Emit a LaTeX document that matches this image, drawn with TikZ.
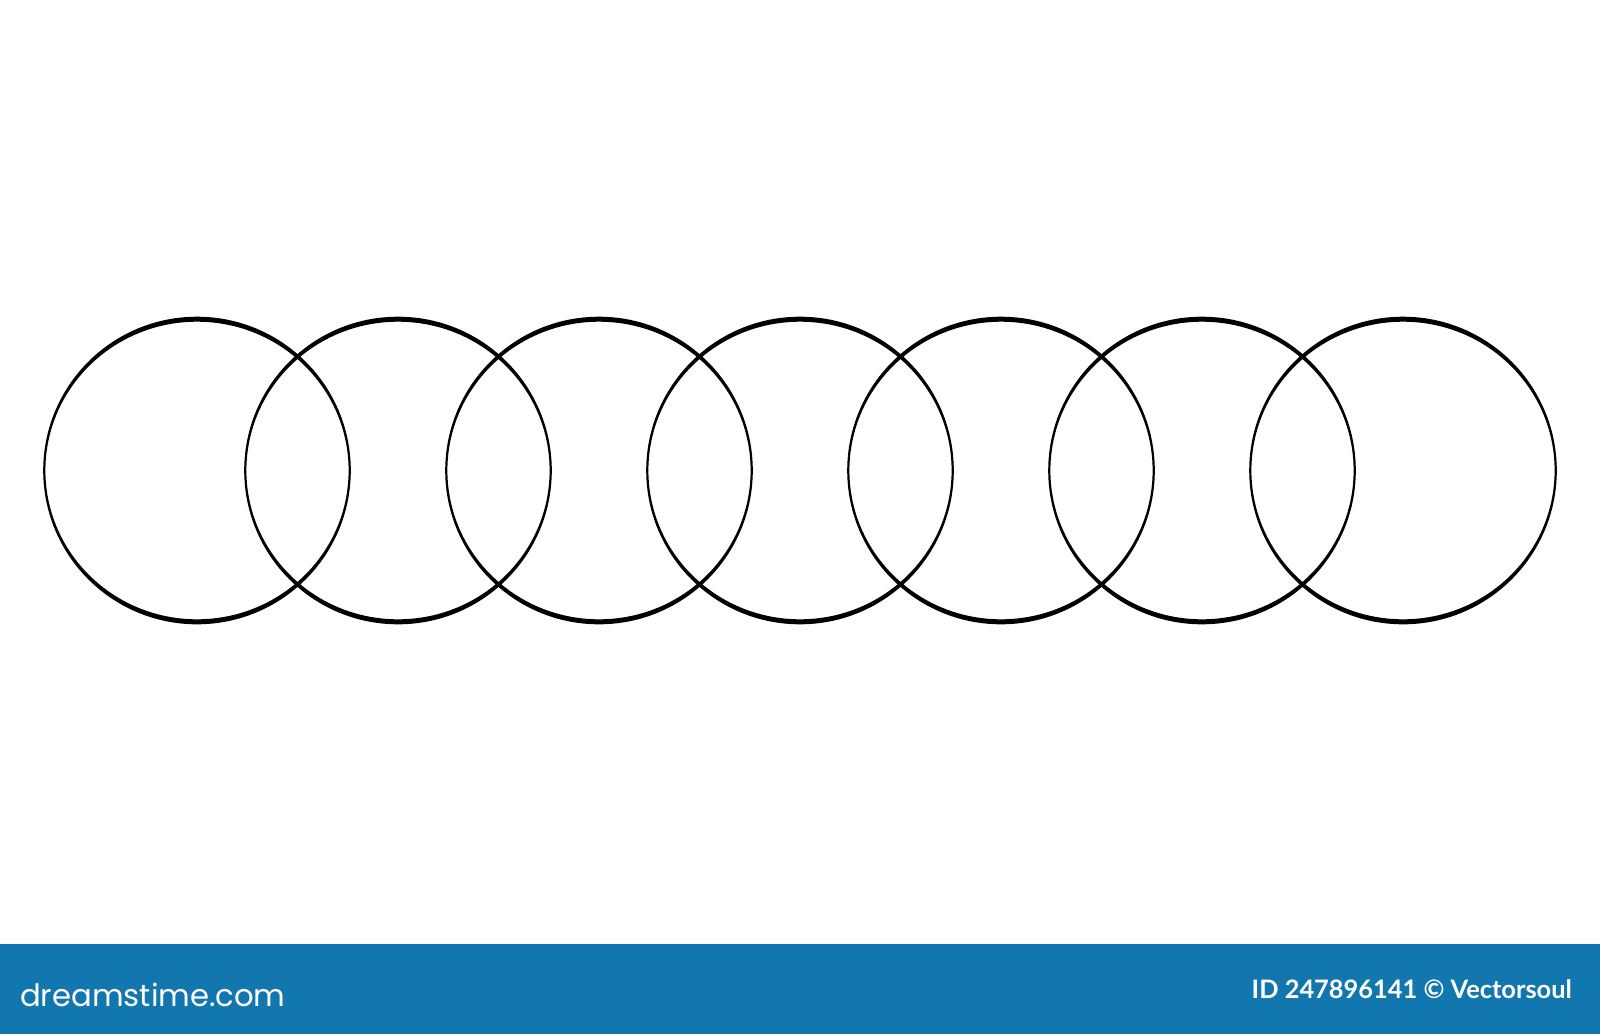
\documentclass[tikz,border=0pt]{standalone}
\usepackage{fontspec}
\usepackage{tikz}
\newfontfamily\logofont{Poppins}
\newfontfamily\creditfont{Lato}
\definecolor{banner}{HTML}{1277AF}

\begin{document}
\begin{tikzpicture}[x=1pt,y=-1pt]
	\useasboundingbox (0,0) rectangle (1600,1034);
	\fill[white] (0,0) rectangle (1600,1034);
	% Draw the chain of overlapping rings (thicker at top and bottom)
	\foreach \i in {0,...,6} {
		\coordinate (c\i) at (197+201*\i,470.5);
		\fill[black,even odd rule] (c\i) circle[radius=153.8] (c\i) ellipse[x radius=151.6, y radius=148.8];
	}
	% Draw the banner at the bottom
	\coordinate (b0) at (0,944);
	\coordinate (b1) at (1600,1034);
	\fill[banner] (b0) rectangle (b1);
	% Label the banner
	\node[white, anchor=base west, inner sep=0pt, font=\logofont\fontsize{30.7}{31}\selectfont] (logo) at (20,1006) {dreamstime.com};
	\node[white, anchor=base east, inner sep=0pt, font=\creditfont\bfseries\fontsize{25.4}{26}\selectfont] (credit) at (1572,998) {ID 247896141 © Vectorsoul};
\end{tikzpicture}
\end{document}
